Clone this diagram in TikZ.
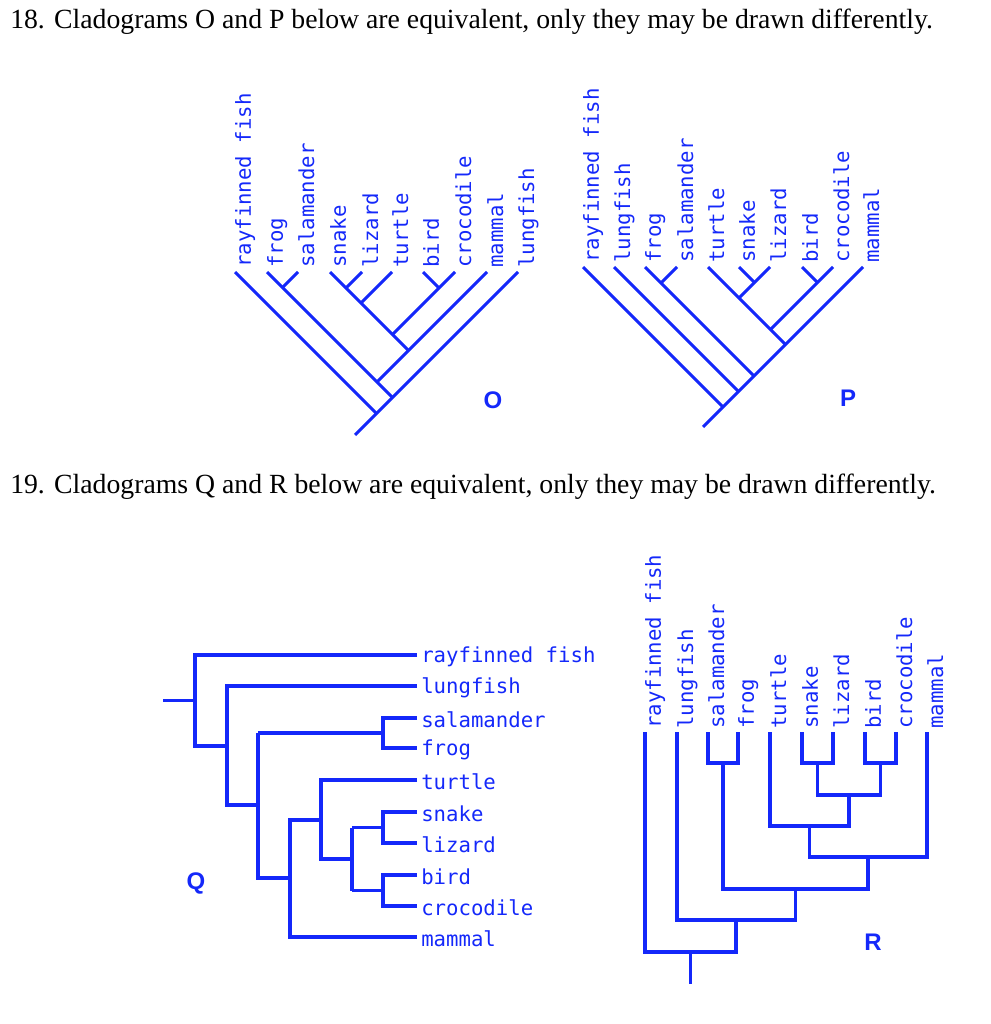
\documentclass[tikz,border=0pt]{standalone}
\usepackage{fontspec}
\setmainfont{Liberation Serif}
\newfontfamily\labfont{DejaVu Sans Mono}
\newfontfamily\bigfont{Liberation Sans}
\definecolor{cblue}{RGB}{20,40,250}
\begin{document}
\begin{tikzpicture}[x=0.75pt,y=-0.75pt,
  br/.style={draw=cblue,line width=2.3pt,line cap=butt},
  vlab/.style={rotate=90,anchor=north west,inner sep=0pt,text=cblue,font=\labfont\fontsize{15.5}{15.5}\selectfont},
  hlab/.style={anchor=west,inner sep=0pt,text=cblue,font=\labfont\fontsize{15.5}{15.5}\selectfont},
  ttl/.style={anchor=west,inner sep=0pt,font=\fontsize{20.8}{22}\selectfont},
  letter/.style={text=cblue,inner sep=0pt,font=\bigfont\bfseries\fontsize{18}{18}\selectfont}]
\useasboundingbox (0,0) rectangle (991,1024);
\node[ttl] (t18) at (10,22) {18. Cladograms O and P below are equivalent, only they may be drawn differently.};
\node[ttl] (t19) at (10,487) {19. Cladograms Q and R below are equivalent, only they may be drawn differently.};
% ---------- O ----------
\foreach \n/\x/\t in {o1/235/rayfinned fish,o2/267/frog,o3/298/salamander,o4/330/snake,o5/362/lizard,o6/392/turtle,o7/423/bird,o8/455/crocodile,o9/487/mammal,o10/518/lungfish}{
  \coordinate (\n) at (\x,272);
  \node[vlab] (l\n) at (\x,268) {\t};}
\coordinate (oroot) at (355,435);
\coordinate (oa) at (376.5,413.5);
\coordinate (ob) at (392.5,397.5);
\coordinate (oc) at (282.5,287.5);
\coordinate (od) at (377,382);
\coordinate (oe) at (408.5,350.5);
\coordinate (of) at (346,288);
\coordinate (og) at (361,303);
\coordinate (oh) at (392.5,334.5);
\coordinate (oi) at (439,288);
\draw[br] (oroot) -- (o10);
\draw[br] (o1) -- (oa);
\draw[br] (o2) -- (ob);
\draw[br] (o3) -- (oc);
\draw[br] (o9) -- (od);
\draw[br] (o4) -- (oe);
\draw[br] (o5) -- (of);
\draw[br] (o6) -- (og);
\draw[br] (o8) -- (oh);
\draw[br] (o7) -- (oi);
\node[letter] (O) at (493,400) {O};
% ---------- P ----------
\foreach \n/\x/\t in {p1/583/rayfinned fish,p2/614/lungfish,p3/645/frog,p4/677/salamander,p5/708/turtle,p6/739/snake,p7/770/lizard,p8/802/bird,p9/833/crocodile,p10/863/mammal}{
  \coordinate (\n) at (\x,267);
  \node[vlab] (l\n) at (\x,263) {\t};}
\coordinate (proot) at (703,427);
\coordinate (pa) at (723,407);
\coordinate (pb) at (738.5,391.5);
\coordinate (pc) at (754,376);
\coordinate (pd) at (661,283);
\coordinate (pe) at (785.5,344.5);
\coordinate (pf) at (770.5,329.5);
\coordinate (pg) at (754.5,282.5);
\coordinate (ph) at (739,298);
\coordinate (pi) at (817.5,282.5);
\draw[br] (proot) -- (p10);
\draw[br] (p1) -- (pa);
\draw[br] (p2) -- (pb);
\draw[br] (p3) -- (pc);
\draw[br] (p4) -- (pd);
\draw[br] (p5) -- (pe);
\draw[br] (p9) -- (pf);
\draw[br] (p6) -- (pg);
\draw[br] (p7) -- (ph);
\draw[br] (p8) -- (pi);
\node[letter] (P) at (848,398) {P};
% ---------- Q ----------
\foreach \n/\y/\t in {q1/655/rayfinned fish,q2/686/lungfish,q3/718/salamander,q4/748/frog,q5/780/turtle,q6/812/snake,q7/843/lizard,q8/875/bird,q9/906/crocodile,q10/937/mammal}{
  \coordinate (\n) at (417,\y);
  \node[hlab] (l\n) at (421,\y+2) {\t};}
\coordinate (qs) at (163,700.5);
\coordinate (qa) at (195,700.5);
\draw[br] (qs) -- (qa);
\draw[br] (q1) -| (195,746) -- (227,746);
\draw[br] (q2) -| (227,805) -- (258,805);
\draw[br] (258,733) |- (258,878) -- (290,878);
\draw[br] (258,733) -- (383,733);
\draw[br] (q3) -| (383,748) -- (q4);
\draw[br] (q10) -| (290,820) -- (321,820);
\draw[br] (q5) -| (321,859) -- (352,859);
\draw[br] (352,827.5) -- (352,890.5);
\draw[br] (352,827.5) -- (383,827.5);
\draw[br] (352,890.5) -- (383,890.5);
\draw[br] (q6) -| (383,843) -- (q7);
\draw[br] (q8) -| (383,906) -- (q9);
\node[letter] (Q) at (196,883) {Q};
% ---------- R ----------
\foreach \n/\x/\t in {r1/645/rayfinned fish,r2/677/lungfish,r3/708/salamander,r4/738/frog,r5/770/turtle,r6/802/snake,r7/833/lizard,r8/865/bird,r9/896/crocodile,r10/927/mammal}{
  \coordinate (\n) at (\x,732);
  \node[vlab] (l\n) at (\x,729) {\t};}
\draw[br] (r3) |- (723,763) -| (r4);
\draw[br] (r6) |- (817.5,763) -| (r7);
\draw[br] (r8) |- (880.5,763) -| (r9);
\draw[br] (817.5,763) |- (849,795) -| (880.5,763);
\draw[br] (r5) |- (809.5,826) -| (849,795);
\draw[br] (809.5,826) |- (868,857) -| (r10);
\draw[br] (723,763) |- (795.5,889) -| (868,857);
\draw[br] (r2) |- (736,920) -| (795.5,889);
\draw[br] (r1) |- (690.5,952) -| (736,920);
\coordinate (rroot) at (690.5,984);
\draw[br] (690.5,952) -- (rroot);
\node[letter] (R) at (873,942) {R};
\end{tikzpicture}
\end{document}
